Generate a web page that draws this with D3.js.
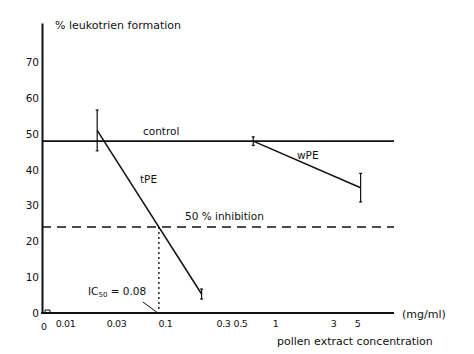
<!DOCTYPE html>
<html>
<head>
<meta charset="utf-8">
<script src="https://cdn.jsdelivr.net/npm/d3@7"></script>
<style>
  body { margin: 0; background: #fff; }
  svg { display: block; }
  text { font-family: "DejaVu Sans", sans-serif; fill: #111; }
  .axis text { font-size: 10.5px; }
  .xaxis text { font-size: 9.5px; letter-spacing: -0.4px; }
</style>
</head>
<body>
<svg id="chart"></svg>
<script>
// Data
const xTicks = [0.01, 0.03, 0.1, 0.3, 0.5, 1, 3, 5];
const yTicks = [0, 10, 20, 30, 40, 50, 60, 70];
const tPE = [
    { c: 0.02, v: 51, err: 5.7 },
    { c: 0.2, v: 5.3, err: 1.4 }
];
const wPE = [
    { c: 0.65, v: 48, err: 1.2 },
    { c: 5.4, v: 35, err: 4 }
];
const controlLevel = 48;
const inhibitionLevel = 24;
const ic50Label = '0.08';

const W = 474, H = 354;
const svg = d3.select('#chart').attr('width', W).attr('height', H);

// the original axis is hand drawn, so the log scale is piecewise
const x = d3.scaleLog()
    .domain(xTicks)
    .range([65, 116, 165, 223, 240, 275, 333, 357]);
const y = d3.scaleLinear().domain([0, 81]).range([313, 23]);
const x0 = 42, xEnd = 394;

// y axis
const yAxis = svg.append('g')
    .attr('class', 'axis')
    .attr('transform', `translate(${x0},0)`)
    .call(d3.axisLeft(y).tickValues(yTicks).tickSize(0).tickSizeOuter(0).tickPadding(3));
yAxis.select('.domain').attr('stroke', '#111').attr('stroke-width', 2);

// x axis
svg.append('line')
    .attr('x1', x0 - 1).attr('x2', xEnd)
    .attr('y1', y(0)).attr('y2', y(0))
    .attr('stroke', '#111').attr('stroke-width', 2);
const xAxis = svg.append('g')
    .attr('class', 'xaxis')
    .attr('transform', `translate(0,${y(0)})`)
    .call(d3.axisBottom(x).tickValues(xTicks).tickSize(0).tickPadding(7)
        .tickFormat(d => String(d)));
xAxis.select('.domain').remove();
svg.append('text')
    .attr('x', x0 + 2).attr('y', y(0) + 17)
    .attr('text-anchor', 'middle')
    .style('font-size', '9.5px')
    .text('0');

// small break mark at the origin
svg.append('path')
    .attr('d', `M${x0 + 3},${y(0)} V${y(0) - 3} H${x0 + 8} V${y(0)}`)
    .attr('fill', 'none').attr('stroke', '#111').attr('stroke-width', 1);

// control and 50 % lines
svg.append('line')
    .attr('x1', x0).attr('x2', xEnd)
    .attr('y1', y(controlLevel)).attr('y2', y(controlLevel))
    .attr('stroke', '#111').attr('stroke-width', 1.6);
svg.append('line')
    .attr('x1', x0).attr('x2', xEnd)
    .attr('y1', y(inhibitionLevel)).attr('y2', y(inhibitionLevel))
    .attr('stroke', '#111').attr('stroke-width', 1.6)
    .attr('stroke-dasharray', '9,6');

// series lines
const line = d3.line().x(d => x(d.c)).y(d => y(d.v));
[tPE, wPE].forEach(s => {
    svg.append('path')
        .datum(s)
        .attr('d', line)
        .attr('fill', 'none')
        .attr('stroke', '#111')
        .attr('stroke-width', 1.5);
    const eb = svg.append('g').selectAll('g').data(s).enter().append('g');
    eb.append('line')
        .attr('x1', d => x(d.c)).attr('x2', d => x(d.c))
        .attr('y1', d => y(d.v + d.err)).attr('y2', d => y(d.v - d.err))
        .attr('stroke', '#111').attr('stroke-width', 1.2);
    [1, -1].forEach(k => {
        eb.append('line')
            .attr('x1', d => x(d.c) - 1.5).attr('x2', d => x(d.c) + 1.5)
            .attr('y1', d => y(d.v + k * d.err)).attr('y2', d => y(d.v + k * d.err))
            .attr('stroke', '#111').attr('stroke-width', 1.2);
    });
});

// IC50: where tPE crosses the 50 % line
const p0 = [x(tPE[0].c), y(tPE[0].v)], p1 = [x(tPE[1].c), y(tPE[1].v)];
const t = (tPE[0].v - inhibitionLevel) / (tPE[0].v - tPE[1].v);
const icX = p0[0] + t * (p1[0] - p0[0]);
svg.append('line')
    .attr('x1', icX).attr('x2', icX)
    .attr('y1', y(inhibitionLevel)).attr('y2', y(0))
    .attr('stroke', '#111').attr('stroke-width', 1.4)
    .attr('stroke-dasharray', '2,3');
svg.append('line')
    .attr('x1', icX - 16).attr('y1', y(0) - 11)
    .attr('x2', icX - 1).attr('y2', y(0))
    .attr('stroke', '#111').attr('stroke-width', 1);

// labels
function label(txt, px, py, size, anchor) {
    return svg.append('text')
        .attr('x', px).attr('y', py)
        .attr('text-anchor', anchor || 'start')
        .style('font-size', (size || 10.5) + 'px')
        .text(txt);
}
label('% leukotrien formation', 55, 29, 11);
label('control', 143, 135);
label('tPE', 140, 183);
label('50 % inhibition', 185, 220);
label('wPE', 297, 159);
label('(mg/ml)', 402, 318, 11);
label('pollen extract concentration', 277, 345, 11);
const ic = label('IC', 88, 295);
ic.append('tspan').attr('dy', 2).style('font-size', '7px').text('50');
ic.append('tspan').attr('dy', -2).text(' = ' + ic50Label);
</script>
</body>
</html>
